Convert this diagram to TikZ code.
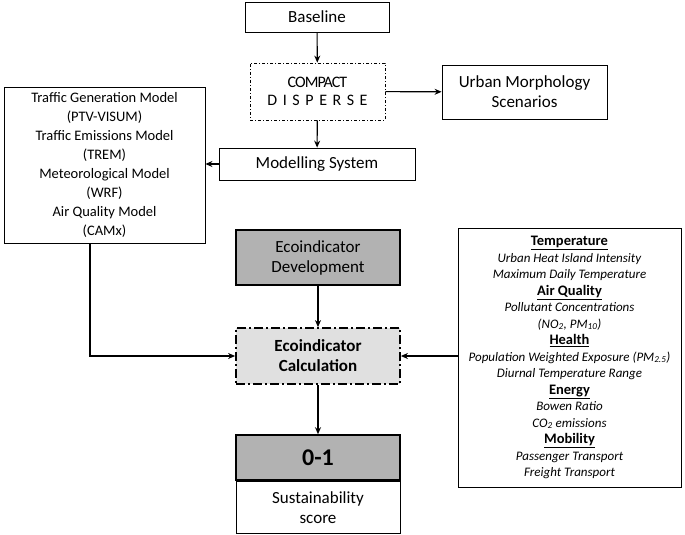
\documentclass[tikz,border=0pt]{standalone}
\usepackage{fontspec}
\setmainfont{Carlito}
\usetikzlibrary{arrows.meta}
\begin{document}
\begin{tikzpicture}[x=1pt,y=-1pt,
 box/.style={draw,line width=0.8pt,align=center,inner sep=0pt},
 big/.style={font=\fontsize{17}{20}\selectfont},
 arr/.style={-{Stealth[length=7pt,width=6pt]},line width=1.1pt}]
\useasboundingbox (0,0) rectangle (685,535);
\node[box,big,minimum width=144,minimum height=30] (base) at (317,17) {Baseline};
\node[box,dash pattern=on 3pt off 2pt on 1pt off 2pt,minimum width=135,minimum height=57] (cd) at (317.5,91.5) {{\fontsize{16}{18}\selectfont\addfontfeature{LetterSpace=-6}COMPACT}\\[6pt]{\fontsize{16}{18}\selectfont\addfontfeature{LetterSpace=35}DISPERSE}};
\node[box,big,minimum width=165,minimum height=54] (um) at (524.5,92) {Urban Morphology\\Scenarios};
\node[box,big,minimum width=196,minimum height=32] (ms) at (317,164) {Modelling System};
\node[box,minimum width=201,minimum height=156,font=\fontsize{14.5}{19}\selectfont] (left) at (104.5,165) {Traffic Generation Model\\(PTV-VISUM)\\Traffic Emissions Model\\(TREM)\\Meteorological Model\\(WRF)\\Air Quality Model\\(CAMx)};
\node[box,big,line width=1.6pt,fill=black!30,minimum width=164,minimum height=55] (dev) at (318,257.5) {Ecoindicator\\Development};
\node[box,big,line width=1.8pt,dash pattern=on 9pt off 3pt on 2pt off 3pt,fill=black!12,minimum width=164,minimum height=56,font=\fontsize{17}{20}\selectfont\bfseries] (calc) at (318,356) {Ecoindicator\\Calculation};
\node[box,line width=1.6pt,fill=black!30,minimum width=164,minimum height=45,font=\fontsize{24}{26}\selectfont\bfseries] (zo) at (318,457.5) {0-1};
\node[box,big,minimum width=164,minimum height=52,anchor=north] (ss) at (zo.south) {Sustainability\\score};
\node[box,minimum width=223,minimum height=259,font=\fontsize{13}{16.5}\selectfont] (right) at (569.5,357.5) {%
{\fontsize{14.5}{16.5}\selectfont\bfseries\underline{Temperature}}\\
\textit{Urban Heat Island Intensity}\\
\textit{Maximum Daily Temperature}\\
{\fontsize{14.5}{16.5}\selectfont\bfseries\underline{Air Quality}}\\
\textit{Pollutant Concentrations}\\
\textit{(NO\textsubscript{2}, PM\textsubscript{10})}\\
{\fontsize{14.5}{16.5}\selectfont\bfseries\underline{Health}}\\
\textit{Population Weighted Exposure (PM\textsubscript{2.5})}\\
\textit{Diurnal Temperature Range}\\
{\fontsize{14.5}{16.5}\selectfont\bfseries\underline{Energy}}\\
\textit{Bowen Ratio}\\
\textit{CO\textsubscript{2} emissions}\\
{\fontsize{14.5}{16.5}\selectfont\bfseries\underline{Mobility}}\\
\textit{Passenger Transport}\\
\textit{Freight Transport}};
\draw[arr] (base) -- (cd);
\draw[arr] (cd) -- (um);
\draw[arr] (cd) -- (ms);
\draw[arr] (ms) -- (left.east|-ms);
\draw[arr] (left.south-|90,0) |- (calc);
\draw[arr] (dev) -- (calc);
\draw[arr] (right.west|-calc) -- (calc);
\draw[arr] (calc) -- (zo);
\end{tikzpicture}
\end{document}
